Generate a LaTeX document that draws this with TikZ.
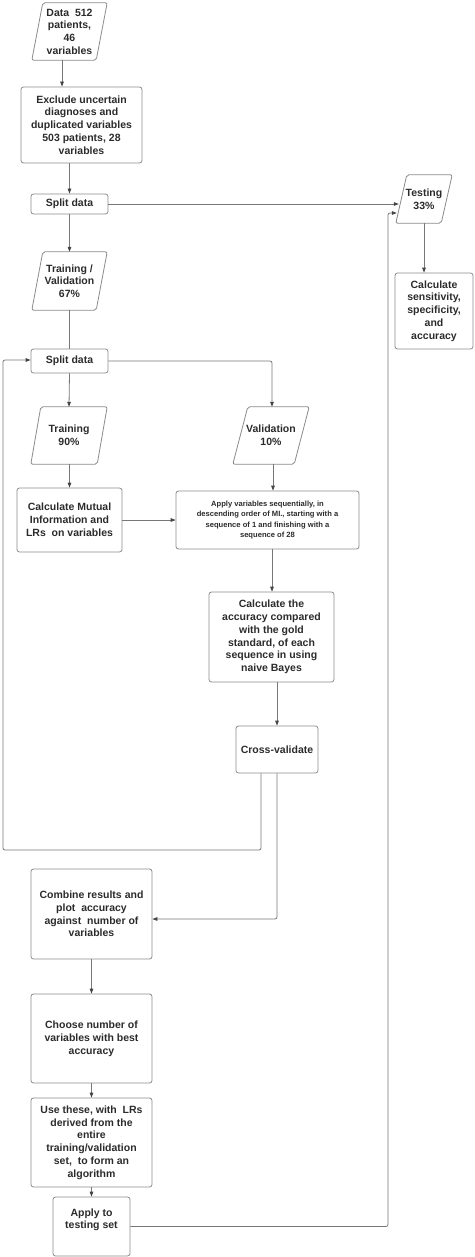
\documentclass[tikz,border=0pt]{standalone}
\usepackage{fontspec}
\setmainfont{Liberation Sans}
\usetikzlibrary{arrows.meta,calc}
\definecolor{boxgray}{HTML}{8A8A8A}
\definecolor{linegray}{HTML}{777777}
\definecolor{tipgray}{HTML}{444444}
\definecolor{txt}{HTML}{2B2B2B}
\tikzset{
  box/.style={draw=boxgray, line width=0.8pt, rounded corners=2.5pt, align=center,
    inner sep=0pt, text=txt, font=\fontsize{10.5}{12.8}\selectfont\bfseries},
  para/.style={align=center, inner sep=0pt, text=txt, font=\fontsize{10.5}{12.6}\selectfont\bfseries},
  paraline/.style={draw=boxgray, line width=0.8pt, rounded corners=2pt},
  conn/.style={draw=linegray, line width=0.8pt, rounded corners=2pt},
  arr/.style={conn, -{Triangle[length=5pt,width=3.6pt,fill=tipgray,color=tipgray]}},
}
\newcommand{\drawpara}[2]{\draw[paraline] (#1.south west) -- ($(#1.north west)+(#2,0)$) -- (#1.north east) -- ($(#1.south east)-(#2,0)$) -- cycle;}
\begin{document}
\begin{tikzpicture}[x=1pt,y=-1pt]
\useasboundingbox (0,0) rectangle (474,1257);
% nodes
\node[para, minimum width=75pt, minimum height=57pt] (data) at (69.5,31.5) {Data\ \ 512\\patients,\\46\\variables};
\node[box, minimum width=121pt, minimum height=76pt] (excl) at (81.5,125) {Exclude uncertain\\diagnoses and\\duplicated variables\\503 patients, 28\\variables};
\node[box, minimum width=77pt, minimum height=20pt] (split1) at (69.5,204) {Split data};
\node[para, minimum width=75pt, minimum height=58pt] (tv) at (69.5,281) {Training /\\Validation\\67\%};
\node[para, minimum width=56pt, minimum height=48pt] (testing) at (424,199) {Testing\\33\%};
\node[box, minimum width=78pt, minimum height=76pt] (sens) at (434,311) {Calculate\\sensitivity,\\specificity,\\and\\accuracy};
\node[box, minimum width=77pt, minimum height=24pt] (split2) at (69.5,361) {Split data};
\node[para, minimum width=76pt, minimum height=57pt] (train) at (69,435.5) {Training\\90\%};
\node[para, minimum width=76pt, minimum height=57pt] (valid) at (271,435.5) {Validation\\10\%};
\node[box, minimum width=105pt, minimum height=64pt] (mi) at (69.5,520) {Calculate Mutual\\Information and\\LRs\ \ on variables};
\node[box, minimum width=183pt, minimum height=58pt, font=\fontsize{7.6}{10.3}\selectfont\bfseries] (apply) at (267.5,520) {Apply variables sequentially, in\\descending order of MI., starting with a\\sequence of 1 and finishing with a\\sequence of 28};
\node[box, minimum width=125pt, minimum height=90pt] (acc) at (271.5,637) {Calculate the\\accuracy compared\\with the gold\\standard, of each\\sequence in using\\naive Bayes};
\node[box, minimum width=82pt, minimum height=47pt] (cross) at (277,749.5) {Cross-validate};
\node[box, minimum width=121pt, minimum height=90pt] (comb) at (91.5,914) {Combine results and\\plot\ \ accuracy\\against\ \ number of\\variables};
\node[box, minimum width=121pt, minimum height=89pt] (choose) at (91.5,1038.5) {Choose number of\\variables with best\\accuracy};
\node[box, minimum width=121pt, minimum height=89pt] (use) at (91.5,1142.5) {Use these, with\ \ LRs\\derived from the\\entire\\training/validation\\set,\ \ to form an\\algorithm};
\node[box, minimum width=77pt, minimum height=59pt] (apt) at (91.5,1226.5) {Apply to\\testing set\\[3pt]};
% parallelogram outlines
\drawpara{data}{11}
\drawpara{tv}{11}
\drawpara{testing}{11}
\drawpara{train}{10}
\drawpara{valid}{15}
% helper coordinates
\coordinate (tin1) at ($(testing.west)+(3,0)$);
\coordinate (tin2) at ($(testing.west)+(1,0)$);
\coordinate (loopL) at (3,850);
\coordinate (rail) at (388,213);
% connectors
\draw[arr] ([xshift=-7.5pt]data.south) -- ([xshift=-7.5pt]data.south |- excl.north);
\draw[arr] (excl.south -| split1) -- (split1.north);
\draw[arr] (split1.east) -- (split1.east -| tin1);
\draw[arr] (testing.south) -- (testing.south |- sens.north);
\draw[arr] (split1.south) -- (tv.north);
\draw[conn] (tv.south) -- (split2.north);
\draw[arr] (split2.south) -- (train.north);
\draw[arr] (split2.east) -| ([xshift=1pt]valid.north);
\draw[arr] (train.south -| mi) -- (mi.north);
\draw[arr] ([xshift=2pt]valid.south) -- ([xshift=2pt]valid.south |- apply.north);
\draw[arr] (mi.east) -- (apply.west);
\draw[arr] ([xshift=4.5pt]apply.south) -- ([xshift=4.5pt]apply.south |- acc.north);
\draw[arr] (acc.south -| cross) -- (cross.north);
\draw[arr] ([xshift=-16pt]cross.south) |- (loopL) |- ([yshift=1pt]split2.west);
\draw[arr] (cross.south) |- ([yshift=-5pt]comb.east);
\draw[arr] (comb.south) -- (choose.north);
\draw[arr] (choose.south) -- (use.north);
\draw[arr] (use.south) -- (apt.north);
\draw[arr] (apt.east) -| (rail) -- (rail -| tin2);
\end{tikzpicture}
\end{document}
